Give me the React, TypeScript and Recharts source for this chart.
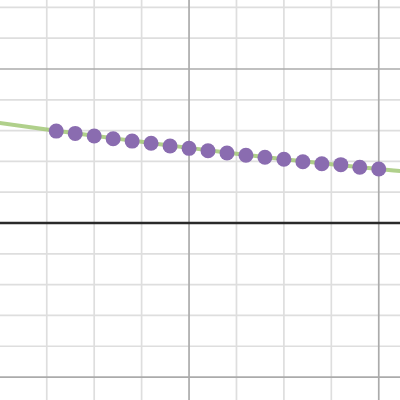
import React from "react";
import {
  ComposedChart,
  Line,
  Scatter,
  XAxis,
  YAxis,
  ReferenceLine,
} from "recharts";

// measured points
const pointX = [0.6, 0.8, 1.0, 1.2, 1.4, 1.6, 1.8, 2.0, 2.2, 2.4, 2.6, 2.8, 3.0, 3.2, 3.4, 3.6, 3.8, 4.0];
const pointY = [0.597, 0.582, 0.565, 0.547, 0.532, 0.518, 0.5, 0.485, 0.469, 0.455, 0.44, 0.427, 0.414, 0.398, 0.385, 0.379, 0.362, 0.351];

// fitted curve
const curveX = [-0.1, 0.5, 1.0, 1.5, 2.0, 2.5, 3.0, 3.5, 4.0, 4.3];
const curveY = [0.658, 0.607, 0.566, 0.527, 0.488, 0.45, 0.414, 0.381, 0.351, 0.333];

// grid
const minorX = [0.5, 1, 1.5, 2.5, 3, 3.5];
const majorX = [2, 4];
const minorY = [-0.8, -0.6, -0.4, -0.2, 0.2, 0.4, 0.6, 0.8, 1.2, 1.4];
const majorY = [-1, 1];

const points = pointX.map((x, i) => ({ x, y: pointY[i] }));
const curve = curveX.map((x, i) => ({ x, y: curveY[i] }));

const Dot = (props: any) => (
  <circle cx={props.cx} cy={props.cy} r={7.5} fill="#8a6cb0" />
);

export default function App() {
  return (
    <div style={{ position: "absolute", top: 0, left: 0, background: "#fff" }}>
      <ComposedChart width={400} height={400} margin={{ top: 0, right: 0, bottom: 0, left: 0 }}>
        <XAxis type="number" dataKey="x" domain={[0.007, 4.224]} allowDataOverflow hide />
        <YAxis type="number" dataKey="y" domain={[-1.149, 1.448]} allowDataOverflow hide />
        {minorX.map((v) => (
          <ReferenceLine key={"mx" + v} x={v} stroke="#dedede" strokeWidth={1.7} />
        ))}
        {minorY.map((v) => (
          <ReferenceLine key={"my" + v} y={v} stroke="#dedede" strokeWidth={1.7} />
        ))}
        {majorX.map((v) => (
          <ReferenceLine key={"Mx" + v} x={v} stroke="#ababab" strokeWidth={1.7} />
        ))}
        {majorY.map((v) => (
          <ReferenceLine key={"My" + v} y={v} stroke="#ababab" strokeWidth={1.7} />
        ))}
        <ReferenceLine y={0} stroke="#2a2a2a" strokeWidth={2.5} />
        <Scatter data={points} shape={Dot} isAnimationActive={false} />
        <Line
          data={curve}
          dataKey="y"
          type="monotone"
          stroke="#9cc46e"
          strokeOpacity={0.8}
          strokeWidth={4}
          dot={false}
          activeDot={false}
          isAnimationActive={false}
        />
      </ComposedChart>
    </div>
  );
}
